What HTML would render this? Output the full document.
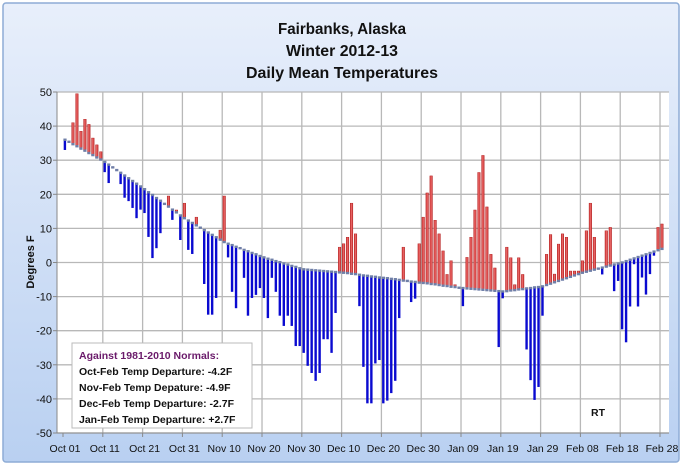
<!DOCTYPE html>
<html><head><meta charset="utf-8">
<style>
html,body{margin:0;padding:0;width:682px;height:466px;overflow:hidden;background:#fff;font-family:"Liberation Sans",sans-serif}
</style></head>
<body>
<svg id="chart" width="682" height="466" viewBox="0 0 682 466" xmlns="http://www.w3.org/2000/svg">
<defs>
<linearGradient id="bg" x1="0" y1="0" x2="0" y2="1">
<stop offset="0" stop-color="#e8effb"/><stop offset="1" stop-color="#b9d0f1"/>
</linearGradient>
<linearGradient id="redg" x1="0" y1="0" x2="1" y2="0">
<stop offset="0" stop-color="#c42a2a"/><stop offset="0.5" stop-color="#f07070"/><stop offset="1" stop-color="#b82020"/>
</linearGradient>
</defs>
<rect x="3" y="3" width="676" height="459" rx="3" fill="url(#bg)" stroke="#8eacd6" stroke-width="1.5"/>
<rect x="57" y="92" width="612" height="341" fill="#fff"/>
<g id="grid"></g>
<g id="bars"></g>
<g id="normals"></g>
<g id="axes"></g>
<text x="342" y="34" text-anchor="middle" font-size="16" font-weight="bold" fill="#111" textLength="128" lengthAdjust="spacingAndGlyphs">Fairbanks, Alaska</text>
<text x="342" y="56" text-anchor="middle" font-size="16" font-weight="bold" fill="#111" textLength="112" lengthAdjust="spacingAndGlyphs">Winter 2012-13</text>
<text x="342" y="78" text-anchor="middle" font-size="16" font-weight="bold" fill="#111" textLength="192" lengthAdjust="spacingAndGlyphs">Daily Mean Temperatures</text>
<text transform="translate(34,262) rotate(-90)" text-anchor="middle" font-size="11" font-weight="bold" fill="#111">Degrees F</text>
<g>
<rect x="72" y="343" width="180" height="85" fill="#fff" stroke="#bbb" stroke-width="1"/>
<text x="79" y="359" font-size="10.5" font-weight="bold" fill="#6a1a6a">Against 1981-2010 Normals:</text>
<text x="79" y="375" font-size="10.5" font-weight="bold" fill="#111">Oct-Feb Temp Departure: -4.2F</text>
<text x="79" y="391" font-size="10.5" font-weight="bold" fill="#111">Nov-Feb Temp Depature: -4.9F</text>
<text x="79" y="407" font-size="10.5" font-weight="bold" fill="#111">Dec-Feb Temp Departure:  -2.7F</text>
<text x="79" y="423" font-size="10.5" font-weight="bold" fill="#111">Jan-Feb Temp Departure: +2.7F</text>
</g>
<text x="591" y="416" font-size="10.5" font-weight="bold" fill="#111">RT</text>
</svg>
<script>
const tickLabels = ["Oct 01","Oct 11","Oct 21","Oct 31","Nov 10","Nov 20","Nov 30","Dec 10","Dec 20","Dec 30","Jan 09","Jan 19","Jan 29","Feb 08","Feb 18","Feb 28"];
const yTicks = [50,40,30,20,10,0,-10,-20,-30,-40,-50];
const normals = [36,35.4,34.7,34.1,33.4,32.8,32.1,31.5,30.8,30.2,
29.5,28.7,27.9,27.1,26.3,25.5,24.7,23.9,23.1,22.3,
21.5,20.6,19.8,18.9,18.1,17.2,16.4,15.5,14.7,13.8,
13,12.3,11.6,10.9,10.2,9.5,8.8,8.1,7.4,6.7,
6,5.5,5.1,4.6,4.2,3.7,3.3,2.8,2.4,1.9,
1.5,1.1,0.8,0.4,0.1,-0.3,-0.6,-1,-1.3,-1.7,
-2,-2.1,-2.2,-2.3,-2.4,-2.5,-2.6,-2.7,-2.8,-2.9,
-3,-3.1,-3.3,-3.4,-3.6,-3.8,-3.9,-4.1,-4.2,-4.4,
-4.5,-4.6,-4.8,-4.9,-5.1,-5.3,-5.4,-5.6,-5.7,-5.9,
-6,-6.1,-6.3,-6.4,-6.6,-6.8,-6.9,-7.1,-7.2,-7.4,
-7.5,-7.6,-7.7,-7.8,-7.9,-8,-8.1,-8.2,-8.3,-8.4,
-8.5,-8.4,-8.2,-8.1,-7.9,-7.8,-7.6,-7.5,-7.3,-7.2,
-7,-6.6,-6.2,-5.8,-5.4,-5,-4.6,-4.2,-3.8,-3.4,
-3,-2.7,-2.4,-2.1,-1.8,-1.5,-1.2,-0.9,-0.6,-0.3,
0,0.4,0.8,1.2,1.6,2,2.4,2.8,3.2,3.6,4];
const actuals = [33,35.4,41,49.5,38.5,42,40.5,36.5,34.5,32.5,
26.5,23.3,27.9,27.1,23,19,18,16,13,15.5,
14.5,7.5,1.3,4.2,8.6,17.2,19.5,12.5,15.4,6.6,
17.4,3.7,2.5,13.3,10.2,-6.3,-15.3,-15.3,-10.4,9.5,
19.5,1.5,-8.6,-13.4,4.2,-4.5,-15.6,-10.4,-9.5,-7.5,
-10.4,-16.3,-4.5,-8.6,-15.6,-18.6,-15.6,-18.6,-24.5,-24.5,
-26.5,-30.3,-32.4,-34.7,-32.4,-22.5,-22.5,-26.5,-14.8,4.5,
5.5,7.4,17.4,8.4,-12.8,-30.6,-41.3,-41.3,-29.6,-28.6,
-41.3,-40.5,-38.3,-34.7,-16.3,4.5,-5.4,-11.6,-10.6,5.5,
13.3,20.4,25.4,12.4,8.4,3.4,-3.5,0.5,-6.5,-7.4,
-12.8,1.5,7.4,15.4,26.4,31.4,16.3,2.4,-1.6,-24.8,
-10.5,4.5,1.4,-6.5,1.4,-3.5,-25.5,-34.5,-40.3,-36.5,
-15.6,2.4,8.2,-3.4,5.4,8.4,7.4,-2.5,-2.5,-2.5,
0.5,9.3,17.4,7.4,-1.8,-3.5,9.3,10.3,-8.4,-5.4,
-19.6,-23.4,-12.9,-0.5,-12.9,-4.4,-9.4,-3.4,2,10.3,11.3];

const NS="http://www.w3.org/2000/svg";
const X0=65, DX=3.98, Y0=262.5, DY=3.41;
function xs(d){return X0+DX*d;}
function ys(v){return Y0-DY*v;}
function mk(tag,attrs,parent){const e=document.createElementNS(NS,tag);for(const k in attrs)e.setAttribute(k,attrs[k]);parent.appendChild(e);return e;}

const grid=document.getElementById('grid');
yTicks.forEach(v=>{
  const l=mk('line',{x1:57,x2:669,y1:ys(v),y2:ys(v),stroke:'#b8b8b8','stroke-width':1.3},grid);
  
  
});
for(let i=1;i<tickLabels.length;i++){
  const gx=xs(i*10-0.5);
  const l=mk('line',{x1:gx,x2:gx,y1:92,y2:433,stroke:'#b8b8b8','stroke-width':1.3},grid);
  
  
}

const bars=document.getElementById('bars');
actuals.forEach((a,d)=>{
  const n=normals[d];
  const top=ys(Math.max(a,n)), bot=ys(Math.min(a,n));
  const h=Math.max(bot-top,0.01);
  const warm=a>=n;
  const r=mk('rect',{x:xs(d)-1.3,y:top,width:warm?2.6:2.4,height:h,fill:warm?'url(#redg)':'#0a0ad0',stroke:warm?'#b01818':'none','stroke-width':0.4},bars);
  
  
});

const ng=document.getElementById('normals');
normals.forEach((n,d)=>{
  const c=mk('rect',{x:xs(d)-1.6,y:ys(n)-1.2,width:3.2,height:2.4,fill:'#6f7fa8'},ng);
  
  
});

const ax=document.getElementById('axes');
const yl=mk('line',{x1:57,x2:57,y1:92,y2:433,stroke:'#888','stroke-width':1},ax);


const xl=mk('line',{x1:57,x2:669,y1:433,y2:433,stroke:'#888','stroke-width':1},ax);


yTicks.forEach(v=>{
  const t=mk('text',{x:52,y:ys(v)+4,'text-anchor':'end','font-size':11,fill:'#111'},ax);
  t.textContent=v;
  
  
  mk('line',{x1:53,x2:57,y1:ys(v),y2:ys(v),stroke:'#888'},ax);
});
tickLabels.forEach((s,i)=>{
  const t=mk('text',{x:xs(i*10),y:452,'text-anchor':'middle','font-size':10.5,fill:'#111'},ax);
  t.textContent=s;
  
  
  mk('line',{x1:xs(i*10-0.5),x2:xs(i*10-0.5),y1:433,y2:437,stroke:'#888'},ax);
});
</script>
</body></html>
